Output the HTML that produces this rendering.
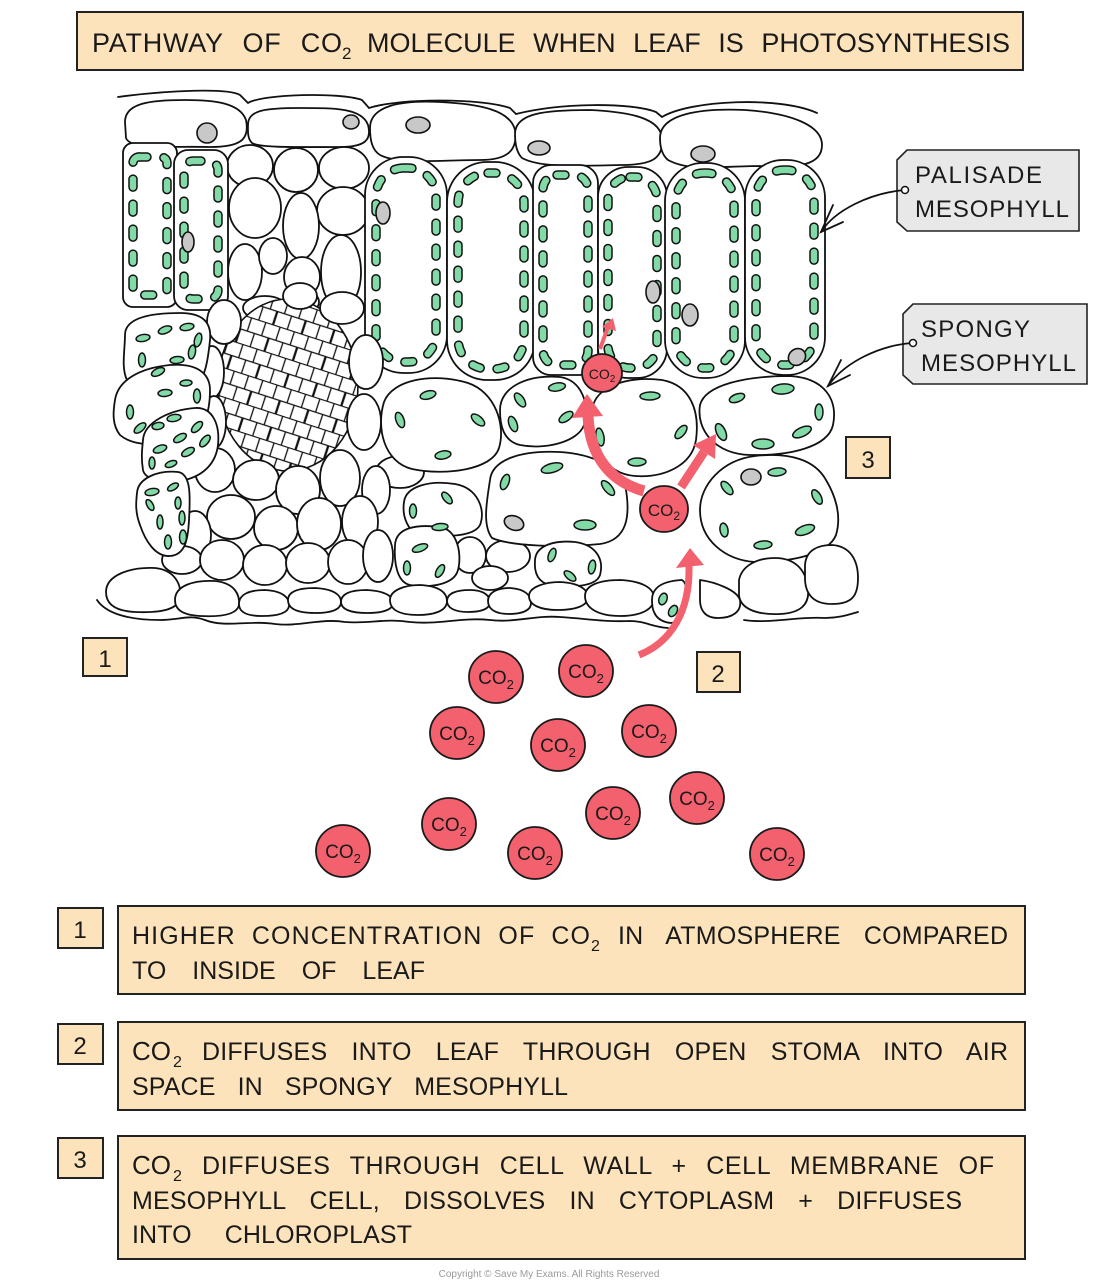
<!DOCTYPE html>
<html><head><meta charset="utf-8"><style>
html,body{margin:0;padding:0;background:#fff;}
svg{display:block;}
text{font-family:"Liberation Sans",sans-serif;fill:#1a1a1a;}
.c{fill:#fff;stroke:#111;stroke-width:1.8;stroke-linejoin:round;}
.n{fill:#c8c8c8;stroke:#111;stroke-width:1.6;}
.k{fill:#82dba7;stroke:#111;stroke-width:1.5;}
.ck{fill:none;stroke:#111;stroke-width:9.5;stroke-linecap:round;stroke-dasharray:8 17;}
.cg{fill:none;stroke:#82dba7;stroke-width:6.5;stroke-linecap:round;stroke-dasharray:8 17;}
.r{fill:#f3606e;stroke:#1a1a1a;stroke-width:1.8;}
.bx{fill:#fde3bb;stroke:#222;stroke-width:2;}
.tag{fill:#e8e8e8;stroke:#222;stroke-width:1.6;}
.ln{fill:none;stroke:#111;stroke-width:1.8;stroke-linecap:round;}
</style></head><body>
<svg width="1100" height="1284" viewBox="0 0 1100 1284" xmlns="http://www.w3.org/2000/svg">
<defs>
<pattern id="net" width="30" height="28" patternUnits="userSpaceOnUse" patternTransform="rotate(18)">
<rect width="30" height="28" fill="#fff"/>
<path d="M0,0.5 H30 M0,14.5 H30 M7.5,0 V14.5 M22.5,0 V14.5 M0.5,14.5 V28 M15,14.5 V28 M29.5,14.5 V28" stroke="#111" stroke-width="1.3" fill="none"/>
</pattern>
</defs>

<!-- Title -->
<rect class="bx" x="77" y="12" width="946" height="58"/>
<text x="92" y="52" font-size="27" word-spacing="11" textLength="250" lengthAdjust="spacing">PATHWAY OF CO</text>
<text x="342" y="59" font-size="17">2</text>
<text x="367" y="52" font-size="27" word-spacing="10" textLength="643" lengthAdjust="spacing">MOLECULE WHEN LEAF IS PHOTOSYNTHESIS</text>

<!-- Upper cuticle -->
<path class="ln" d="M118,97 C170,90 228,88 240,95 L248,103 C262,94 340,92 362,100 L369,108 C400,98 480,98 510,108 L516,114 C560,103 630,102 656,112 L662,117 C690,100 780,96 817,113"/>

<!-- Upper epidermis -->
<path class="c" d="M125,122 C125,103 150,100 185,100 C215,100 240,103 246,120 C250,140 240,147 210,147 C170,146 130,150 126,138 Z"/>
<circle class="n" cx="207" cy="133" r="10" />
<path class="c" d="M248,125 C248,110 265,108 300,108 C335,108 362,108 368,125 C372,140 365,147 340,147 C300,147 260,148 252,143 C247,138 248,130 248,125 Z"/>
<ellipse class="n" cx="351" cy="122" rx="8" ry="7"/>
<path class="c" d="M370,128 C370,106 400,100 440,102 C480,104 510,110 515,130 C518,150 508,160 480,160 C440,160 400,165 380,155 C372,150 370,140 370,128 Z"/>
<ellipse class="n" cx="418" cy="125" rx="12" ry="8"/>
<path class="c" d="M515,134 C515,113 545,110 590,110 C630,112 660,118 662,138 C664,160 650,165 620,165 C580,166 540,168 522,158 C516,152 515,142 515,134 Z"/>
<ellipse class="n" cx="539" cy="148" rx="11" ry="7"/>
<path class="c" d="M660,138 C660,114 700,108 745,110 C790,113 822,125 822,145 C822,165 800,168 760,166 C720,166 690,172 668,160 C662,155 660,146 660,138 Z"/>
<ellipse class="n" cx="703" cy="154" rx="12" ry="8"/>

<!-- Bundle sheath / round cells between palisade -->
<g class="c">
<ellipse cx="265" cy="308" rx="22" ry="12"/>
<ellipse cx="302" cy="302" rx="17" ry="12"/>
<ellipse cx="250" cy="166" rx="23" ry="21"/>
<ellipse cx="296" cy="170" rx="22" ry="22"/>
<ellipse cx="344" cy="168" rx="25" ry="21"/>
<ellipse cx="255" cy="208" rx="26" ry="30"/>
<ellipse cx="343" cy="211" rx="26" ry="24"/>
<ellipse cx="301" cy="226" rx="18" ry="33"/>
<ellipse cx="245" cy="272" rx="17" ry="28"/>
<ellipse cx="273" cy="256" rx="14" ry="18"/>
<ellipse cx="302" cy="277" rx="18" ry="20"/>
<ellipse cx="341" cy="272" rx="20" ry="37"/>
</g>

<!-- Palisade cells -->
<rect class="c" x="123" y="143" width="54" height="164" rx="10"/>
<rect class="ck" x="133" y="157" width="34" height="138" rx="6"/>
<rect class="cg" x="133" y="157" width="34" height="138" rx="6"/>
<rect class="c" x="174" y="150" width="54" height="160" rx="14"/>
<rect class="ck" x="184" y="161" width="34" height="138" rx="9"/>
<rect class="cg" x="184" y="161" width="34" height="138" rx="9"/>
<ellipse class="n" cx="188" cy="242" rx="6" ry="10"/>

<rect class="c" x="365" y="157" width="82" height="216" rx="38"/>
<rect class="ck" x="376" y="168" width="60" height="194" rx="28"/>
<rect class="cg" x="376" y="168" width="60" height="194" rx="28"/>
<ellipse class="n" cx="383" cy="213" rx="7" ry="11"/>

<rect class="c" x="447" y="162" width="88" height="218" rx="40"/>
<rect class="ck" x="458" y="173" width="66" height="196" rx="30"/>
<rect class="cg" x="458" y="173" width="66" height="196" rx="30"/>

<rect class="c" x="533" y="165" width="65" height="210" rx="18"/>
<rect class="ck" x="543" y="175" width="45" height="190" rx="14"/>
<rect class="cg" x="543" y="175" width="45" height="190" rx="14"/>

<rect class="c" x="598" y="167" width="69" height="211" rx="30"/>
<rect class="ck" x="608" y="177" width="49" height="191" rx="22"/>
<rect class="cg" x="608" y="177" width="49" height="191" rx="22"/>
<ellipse class="n" cx="653" cy="292" rx="7" ry="11"/>

<rect class="c" x="665" y="163" width="80" height="215" rx="38"/>
<rect class="ck" x="676" y="173" width="58" height="195" rx="28"/>
<rect class="cg" x="676" y="173" width="58" height="195" rx="28"/>
<ellipse class="n" cx="690" cy="315" rx="8" ry="11"/>

<rect class="c" x="745" y="160" width="80" height="215" rx="38"/>
<rect class="ck" x="756" y="170" width="58" height="195" rx="28"/>
<rect class="cg" x="756" y="170" width="58" height="195" rx="28"/>
<ellipse class="n" cx="797" cy="357" rx="9" ry="8" transform="rotate(-40 797 357)"/>

<!-- Vascular bundle net -->
<ellipse cx="288" cy="385" rx="70" ry="86" fill="url(#net)" stroke="#111" stroke-width="1.6"/>
<g class="c">
<ellipse cx="224" cy="322" rx="17" ry="22"/>
<ellipse cx="212" cy="372" rx="12" ry="26"/>
<ellipse cx="214" cy="422" rx="12" ry="26"/>
<ellipse cx="300" cy="296" rx="17" ry="13"/>
<ellipse cx="342" cy="308" rx="22" ry="16"/>
<ellipse cx="366" cy="362" rx="17" ry="27"/>
<ellipse cx="364" cy="422" rx="17" ry="28"/>
<ellipse cx="215" cy="470" rx="20" ry="22"/>
<ellipse cx="256" cy="480" rx="23" ry="20"/>
<ellipse cx="298" cy="490" rx="22" ry="24"/>
<ellipse cx="340" cy="478" rx="20" ry="28"/>
<ellipse cx="400" cy="472" rx="24" ry="16"/>
<ellipse cx="376" cy="490" rx="14" ry="24"/>
<ellipse cx="231" cy="517" rx="24" ry="22"/>
<ellipse cx="276" cy="528" rx="22" ry="22"/>
<ellipse cx="319" cy="524" rx="22" ry="26"/>
<ellipse cx="360" cy="522" rx="18" ry="26"/>
<ellipse cx="195" cy="535" rx="16" ry="24"/>
<ellipse cx="182" cy="560" rx="20" ry="14"/>
<ellipse cx="222" cy="560" rx="22" ry="20"/>
<ellipse cx="265" cy="565" rx="22" ry="20"/>
<ellipse cx="308" cy="563" rx="22" ry="20"/>
<ellipse cx="348" cy="562" rx="20" ry="22"/>
<ellipse cx="378" cy="556" rx="15" ry="26"/>
<ellipse cx="470" cy="555" rx="16" ry="18"/>
<ellipse cx="508" cy="556" rx="22" ry="16"/>
<ellipse cx="490" cy="578" rx="18" ry="12"/>
</g>

<!-- Left spongy stack -->
<path class="c" d="M125,335 C125,318 150,313 180,313 C200,313 212,320 210,340 C208,360 205,385 190,388 C165,392 135,392 127,380 C121,368 125,350 125,335Z"/>
<path class="c" d="M115,400 C118,380 140,368 170,365 C195,363 210,372 210,390 C210,410 205,430 188,438 C170,446 135,448 120,435 C112,425 113,412 115,400Z"/>
<path class="c" d="M143,440 C144,422 170,410 195,408 C213,407 220,425 218,445 C216,462 205,475 185,480 C165,484 145,480 143,470 C141,458 142,450 143,440Z"/>
<path class="c" d="M137,493 C138,478 158,470 178,472 C192,474 190,500 189,520 C188,540 185,555 170,556 C155,557 145,540 140,525 C135,512 136,502 137,493Z"/>
<g class="k">
<ellipse cx="143" cy="338" rx="3.5" ry="7" transform="rotate(80 143 338)"/>
<ellipse cx="165" cy="330" rx="3.5" ry="7" transform="rotate(70 165 330)"/>
<ellipse cx="187" cy="327" rx="3.5" ry="7" transform="rotate(80 187 327)"/>
<ellipse cx="198" cy="340" rx="3.5" ry="7" transform="rotate(15 198 340)"/>
<ellipse cx="142" cy="360" rx="3.5" ry="7"/>
<ellipse cx="158" cy="372" rx="3.5" ry="7" transform="rotate(65 158 372)"/>
<ellipse cx="177" cy="360" rx="3.5" ry="7" transform="rotate(85 177 360)"/>
<ellipse cx="192" cy="352" rx="3.5" ry="7" transform="rotate(10 192 352)"/>
<ellipse cx="165" cy="393" rx="3.5" ry="7" transform="rotate(85 165 393)"/>
<ellipse cx="186" cy="383" rx="3" ry="6" transform="rotate(85 186 383)"/>
<ellipse cx="197" cy="396" rx="3.5" ry="7"/>
<ellipse cx="130" cy="412" rx="3.5" ry="7"/>
<ellipse cx="140" cy="428" rx="3.5" ry="7" transform="rotate(50 140 428)"/>
<ellipse cx="158" cy="426" rx="3.5" ry="6" transform="rotate(80 158 426)"/>
<ellipse cx="174" cy="418" rx="3.5" ry="7" transform="rotate(80 174 418)"/>
<ellipse cx="160" cy="449" rx="3.5" ry="7" transform="rotate(70 160 449)"/>
<ellipse cx="180" cy="438" rx="3.5" ry="7" transform="rotate(60 180 438)"/>
<ellipse cx="197" cy="427" rx="3.5" ry="7" transform="rotate(45 197 427)"/>
<ellipse cx="205" cy="441" rx="3.5" ry="7" transform="rotate(40 205 441)"/>
<ellipse cx="152" cy="463" rx="3" ry="6"/>
<ellipse cx="171" cy="464" rx="3" ry="6" transform="rotate(70 171 464)"/>
<ellipse cx="188" cy="452" rx="3.5" ry="7" transform="rotate(60 188 452)"/>
<ellipse cx="152" cy="492" rx="3.5" ry="7" transform="rotate(80 152 492)"/>
<ellipse cx="173" cy="487" rx="3" ry="6" transform="rotate(60 173 487)"/>
<ellipse cx="150" cy="505" rx="3" ry="6" transform="rotate(-30 150 505)"/>
<ellipse cx="178" cy="503" rx="3" ry="6"/>
<ellipse cx="160" cy="522" rx="3" ry="7"/>
<ellipse cx="182" cy="518" rx="3" ry="7"/>
<ellipse cx="168" cy="542" rx="3.5" ry="7"/>
<ellipse cx="183" cy="537" rx="3.5" ry="7"/>
</g>

<!-- Right spongy cells -->
<path class="c" d="M384,402 C392,380 432,372 468,383 C495,392 506,425 499,448 C492,470 445,476 412,469 C384,462 376,428 384,402Z"/>
<path class="c" d="M500,410 C500,386 530,374 560,377 C582,380 590,405 584,425 C578,442 545,450 520,445 C503,441 500,425 500,410Z"/>
<path class="c" d="M592,410 C595,385 630,376 662,380 C690,385 700,410 696,440 C692,465 665,478 635,476 C605,474 588,445 592,410Z"/>
<path class="c" d="M700,405 C705,385 745,376 790,376 C825,378 838,400 833,425 C828,447 790,456 750,455 C715,454 696,430 700,405Z"/>
<path class="c" d="M490,480 C492,460 520,450 560,452 C590,454 620,465 626,490 C630,515 628,540 600,544 C560,548 510,546 492,538 C482,525 487,500 490,480Z"/>
<path class="c" d="M700,510 C700,485 722,460 755,456 C790,452 815,460 826,480 C835,495 842,515 836,535 C828,555 790,562 755,562 C725,560 700,540 700,510Z"/>
<path class="c" d="M404,502 C406,486 430,480 455,484 C478,488 486,510 480,525 C474,537 445,537 422,535 C407,533 402,515 404,502Z"/>
<path class="c" d="M395,545 C396,528 415,524 440,527 C458,530 462,555 458,570 C454,585 430,588 410,585 C396,582 394,560 395,545Z"/>
<path class="c" d="M535,560 C536,545 555,540 575,542 C597,545 604,560 600,575 C596,587 570,588 550,585 C537,582 534,572 535,560Z"/>
<ellipse class="n" cx="514" cy="523" rx="10" ry="7" transform="rotate(20 514 523)"/>
<ellipse class="n" cx="751" cy="477" rx="10" ry="8"/>
<g class="k">
<ellipse cx="428" cy="395" rx="4" ry="8" transform="rotate(75 428 395)"/>
<ellipse cx="400" cy="420" rx="4" ry="8" transform="rotate(-20 400 420)"/>
<ellipse cx="478" cy="420" rx="4" ry="8" transform="rotate(-50 478 420)"/>
<ellipse cx="443" cy="455" rx="4" ry="8" transform="rotate(80 443 455)"/>
<ellipse cx="557" cy="387" rx="4" ry="8.5" transform="rotate(80 557 387)"/>
<ellipse cx="520" cy="400" rx="4" ry="8" transform="rotate(-35 520 400)"/>
<ellipse cx="513" cy="424" rx="4" ry="8" transform="rotate(-20 513 424)"/>
<ellipse cx="566" cy="417" rx="4" ry="8" transform="rotate(55 566 417)"/>
<ellipse cx="650" cy="396" rx="4" ry="10" transform="rotate(88 650 396)"/>
<ellipse cx="600" cy="437" rx="4" ry="9" transform="rotate(-10 600 437)"/>
<ellipse cx="681" cy="432" rx="4" ry="8" transform="rotate(40 681 432)"/>
<ellipse cx="637" cy="462" rx="4" ry="9" transform="rotate(88 637 462)"/>
<ellipse cx="783" cy="389" rx="5" ry="11" transform="rotate(85 783 389)"/>
<ellipse cx="737" cy="398" rx="4" ry="8" transform="rotate(70 737 398)"/>
<ellipse cx="721" cy="432" rx="4.5" ry="9" transform="rotate(-25 721 432)"/>
<ellipse cx="763" cy="444" rx="5" ry="11" transform="rotate(90 763 444)"/>
<ellipse cx="802" cy="432" rx="4.5" ry="10" transform="rotate(65 802 432)"/>
<ellipse cx="819" cy="412" rx="4" ry="8"/>
<ellipse cx="552" cy="468" rx="4.5" ry="11" transform="rotate(75 552 468)"/>
<ellipse cx="505" cy="482" rx="4" ry="8" transform="rotate(20 505 482)"/>
<ellipse cx="608" cy="488" rx="4" ry="9" transform="rotate(-40 608 488)"/>
<ellipse cx="585" cy="525" rx="5" ry="11" transform="rotate(90 585 525)"/>
<ellipse cx="777" cy="472" rx="4" ry="9" transform="rotate(85 777 472)"/>
<ellipse cx="727" cy="488" rx="4" ry="8" transform="rotate(-40 727 488)"/>
<ellipse cx="817" cy="497" rx="4" ry="8" transform="rotate(-30 817 497)"/>
<ellipse cx="724" cy="530" rx="4" ry="7" transform="rotate(-10 724 530)"/>
<ellipse cx="805" cy="530" rx="4.5" ry="10" transform="rotate(70 805 530)"/>
<ellipse cx="763" cy="545" rx="4" ry="9" transform="rotate(85 763 545)"/>
<ellipse cx="552" cy="555" rx="3.5" ry="7" transform="rotate(20 552 555)"/>
<ellipse cx="592" cy="567" rx="3.5" ry="7" transform="rotate(10 592 567)"/>
<ellipse cx="570" cy="576" rx="3.5" ry="7" transform="rotate(-50 570 576)"/>
<ellipse cx="447" cy="498" rx="3.5" ry="7" transform="rotate(-40 447 498)"/>
<ellipse cx="413" cy="511" rx="3.5" ry="7"/>
<ellipse cx="440" cy="527" rx="3.5" ry="8" transform="rotate(85 440 527)"/>
<ellipse cx="420" cy="548" rx="3.5" ry="8" transform="rotate(70 420 548)"/>
<ellipse cx="407" cy="568" rx="3.5" ry="7"/>
<ellipse cx="440" cy="571" rx="3.5" ry="7" transform="rotate(30 440 571)"/>
</g>

<!-- Lower epidermis -->
<g class="c">
<path d="M106,592 C106,575 130,567 155,568 C175,570 182,585 180,598 C178,610 160,613 135,612 C115,611 106,604 106,592Z"/>
<path d="M175,600 C175,585 195,580 215,581 C235,583 240,595 239,605 C237,615 220,617 200,616 C183,615 175,610 175,600Z"/>
<path d="M239,604 C239,594 250,590 265,590 C283,591 290,598 289,606 C288,614 275,616 262,616 C246,616 239,612 239,604Z"/>
<path d="M288,600 C288,591 300,588 315,588 C334,589 341,595 341,602 C341,610 330,613 315,613 C297,613 288,609 288,600Z"/>
<path d="M341,602 C341,593 352,590 367,590 C385,591 393,596 393,603 C393,610 382,613 367,613 C350,613 341,609 341,602Z"/>
<path d="M390,600 C390,590 405,585 420,585 C440,586 447,593 447,601 C447,611 434,615 418,615 C400,615 390,610 390,600Z"/>
<path d="M447,601 C447,593 457,590 470,590 C484,590 490,596 490,602 C490,609 481,612 468,612 C455,612 447,608 447,601Z"/>
<path d="M488,601 C488,592 498,588 510,588 C526,589 531,596 531,603 C531,611 521,614 509,614 C495,614 488,609 488,601Z"/>
<path d="M529,596 C529,587 545,582 560,582 C580,583 588,590 588,597 C588,606 575,610 558,610 C540,610 529,605 529,596Z"/>
<path d="M585,596 C585,585 600,580 620,580 C642,581 654,588 654,598 C654,610 640,616 620,616 C598,616 585,608 585,596Z"/>
<path d="M700,580 C715,582 737,590 740,600 C742,612 732,618 718,618 C705,618 700,610 700,600 Z"/>
<path d="M739,580 C742,565 758,558 775,558 C795,558 806,570 808,588 C810,605 800,613 780,614 C755,615 740,608 739,595Z"/>
<path d="M805,565 C806,550 818,545 832,545 C850,546 858,560 858,578 C858,596 852,604 832,604 C815,604 806,596 805,580Z"/>
</g>
<!-- guard cell -->
<path class="c" d="M652,600 C652,588 662,581 682,580 C690,585 688,610 680,620 C672,626 658,622 654,612 C652,608 652,604 652,600Z"/>
<ellipse class="k" cx="663" cy="599" rx="4" ry="6" transform="rotate(20 663 599)"/>
<ellipse class="k" cx="673" cy="611" rx="4" ry="6" transform="rotate(30 673 611)"/>
<!-- lower cuticle -->
<path class="ln" d="M97,600 C105,612 125,620 160,620 C180,620 190,614 205,620 C225,628 250,620 275,624 C300,627 320,618 345,622 C370,624 385,618 410,622 C440,625 460,617 490,620 C515,623 535,615 560,617 C590,619 605,622 630,621 C645,621 652,627 668,628"/>
<path class="ln" d="M744,620 C770,624 800,616 825,618 C840,618 850,614 858,612"/>

<!-- CO2 inside leaf -->
<ellipse class="r" cx="664" cy="509" rx="24" ry="23"/>
<text x="664" y="516" font-size="17" text-anchor="middle">CO<tspan font-size="12" dy="4">2</tspan></text>
<ellipse class="r" cx="602" cy="373" rx="20" ry="19"/>
<text x="602" y="379" font-size="14" text-anchor="middle">CO<tspan font-size="10" dy="3">2</tspan></text>

<!-- Arrows -->
<path d="M644,491 C612,482 590,458 588,416" fill="none" stroke="#f3606e" stroke-width="11"/>
<polygon points="587,394 572,418 603,416" fill="#f3606e"/>
<path d="M681,487 L704,452" fill="none" stroke="#f3606e" stroke-width="9"/>
<polygon points="716,434 693,445 715,459" fill="#f3606e"/>
<path d="M600,349 L608,327" fill="none" stroke="#f3606e" stroke-width="4"/>
<polygon points="613,318 602,327 616,331" fill="#f3606e"/>
<path d="M639,655 C672,642 690,610 689,566" fill="none" stroke="#f3606e" stroke-width="7"/>
<polygon points="690,548 676,568 704,565" fill="#f3606e"/>

<!-- Label tags -->
<path class="tag" d="M907,150 H1079 V231 H907 L897,222 V160 Z"/>
<text x="915" y="183" font-size="24" textLength="127" lengthAdjust="spacing">PALISADE</text>
<text x="915" y="217" font-size="24" textLength="154" lengthAdjust="spacing">MESOPHYLL</text>
<path class="ln" d="M905,190 C870,193 835,210 821,232" stroke-width="1.5"/>
<path class="ln" d="M833,205 L821,232 L843,222" stroke-width="1.5"/>
<circle cx="905" cy="190" r="3.5" fill="#fff" stroke="#111" stroke-width="1.5"/>

<path class="tag" d="M913,304 H1087 V384 H913 L903,375 V314 Z"/>
<text x="921" y="337" font-size="24" textLength="109" lengthAdjust="spacing">SPONGY</text>
<text x="921" y="371" font-size="24" textLength="155" lengthAdjust="spacing">MESOPHYLL</text>
<path class="ln" d="M913,343 C880,345 845,362 828,386" stroke-width="1.5"/>
<path class="ln" d="M841,360 L828,386 L850,375" stroke-width="1.5"/>
<circle cx="913" cy="343" r="3.5" fill="#fff" stroke="#111" stroke-width="1.5"/>

<!-- number boxes on diagram -->
<rect class="bx" x="846" y="437" width="44" height="41"/>
<text x="868" y="468" font-size="24" text-anchor="middle">3</text>
<rect class="bx" x="83" y="638" width="44" height="38"/>
<text x="105" y="667" font-size="24" text-anchor="middle">1</text>
<rect class="bx" x="697" y="652" width="43" height="40"/>
<text x="718" y="682" font-size="24" text-anchor="middle">2</text>

<!-- CO2 molecules outside -->
<g>
<ellipse class="r" cx="496" cy="677" rx="27" ry="26"/><text x="496" y="684" font-size="19" text-anchor="middle">CO<tspan font-size="13" dy="5">2</tspan></text>
<ellipse class="r" cx="586" cy="671" rx="27" ry="26"/><text x="586" y="678" font-size="19" text-anchor="middle">CO<tspan font-size="13" dy="5">2</tspan></text>
<ellipse class="r" cx="457" cy="733" rx="27" ry="26"/><text x="457" y="740" font-size="19" text-anchor="middle">CO<tspan font-size="13" dy="5">2</tspan></text>
<ellipse class="r" cx="558" cy="745" rx="27" ry="26"/><text x="558" y="752" font-size="19" text-anchor="middle">CO<tspan font-size="13" dy="5">2</tspan></text>
<ellipse class="r" cx="649" cy="731" rx="27" ry="26"/><text x="649" y="738" font-size="19" text-anchor="middle">CO<tspan font-size="13" dy="5">2</tspan></text>
<ellipse class="r" cx="697" cy="798" rx="27" ry="26"/><text x="697" y="805" font-size="19" text-anchor="middle">CO<tspan font-size="13" dy="5">2</tspan></text>
<ellipse class="r" cx="613" cy="813" rx="27" ry="26"/><text x="613" y="820" font-size="19" text-anchor="middle">CO<tspan font-size="13" dy="5">2</tspan></text>
<ellipse class="r" cx="449" cy="824" rx="27" ry="26"/><text x="449" y="831" font-size="19" text-anchor="middle">CO<tspan font-size="13" dy="5">2</tspan></text>
<ellipse class="r" cx="343" cy="851" rx="27" ry="26"/><text x="343" y="858" font-size="19" text-anchor="middle">CO<tspan font-size="13" dy="5">2</tspan></text>
<ellipse class="r" cx="535" cy="853" rx="27" ry="26"/><text x="535" y="860" font-size="19" text-anchor="middle">CO<tspan font-size="13" dy="5">2</tspan></text>
<ellipse class="r" cx="777" cy="854" rx="27" ry="26"/><text x="777" y="861" font-size="19" text-anchor="middle">CO<tspan font-size="13" dy="5">2</tspan></text>
</g>

<!-- Bottom explanation boxes -->
<rect class="bx" x="58" y="908" width="45" height="40"/>
<text x="80" y="938" font-size="24" text-anchor="middle">1</text>
<rect class="bx" x="118" y="906" width="907" height="88"/>
<text x="132" y="944" font-size="25" word-spacing="8" textLength="458" lengthAdjust="spacing">HIGHER CONCENTRATION OF CO</text>
<text x="591" y="951" font-size="16">2</text>
<text x="618" y="944" font-size="25" word-spacing="16" textLength="390" lengthAdjust="spacing">IN ATMOSPHERE COMPARED</text>
<text x="132" y="979" font-size="25" word-spacing="19" textLength="293" lengthAdjust="spacing">TO INSIDE OF LEAF</text>

<rect class="bx" x="58" y="1024" width="45" height="40"/>
<text x="80" y="1054" font-size="24" text-anchor="middle">2</text>
<rect class="bx" x="118" y="1022" width="907" height="88"/>
<text x="132" y="1060" font-size="26">CO</text>
<text x="173" y="1067" font-size="16">2</text>
<text x="202" y="1060" font-size="25" word-spacing="17" textLength="806" lengthAdjust="spacing">DIFFUSES INTO LEAF THROUGH OPEN STOMA INTO AIR</text>
<text x="132" y="1095" font-size="25" word-spacing="15" textLength="436" lengthAdjust="spacing">SPACE IN SPONGY MESOPHYLL</text>

<rect class="bx" x="58" y="1138" width="45" height="40"/>
<text x="80" y="1168" font-size="24" text-anchor="middle">3</text>
<rect class="bx" x="118" y="1136" width="907" height="123"/>
<text x="132" y="1174" font-size="26">CO</text>
<text x="173" y="1181" font-size="16">2</text>
<text x="202" y="1174" font-size="25" word-spacing="12" textLength="792" lengthAdjust="spacing">DIFFUSES THROUGH CELL WALL + CELL MEMBRANE OF</text>
<text x="132" y="1209" font-size="25" word-spacing="17" textLength="830" lengthAdjust="spacing">MESOPHYLL CELL, DISSOLVES IN CYTOPLASM + DIFFUSES</text>
<text x="132" y="1243" font-size="25" word-spacing="26" textLength="280" lengthAdjust="spacing">INTO CHLOROPLAST</text>

<text x="549" y="1277" font-size="10" text-anchor="middle" style="fill:#9a9a9a">Copyright © Save My Exams. All Rights Reserved</text>
</svg>
</body></html>
